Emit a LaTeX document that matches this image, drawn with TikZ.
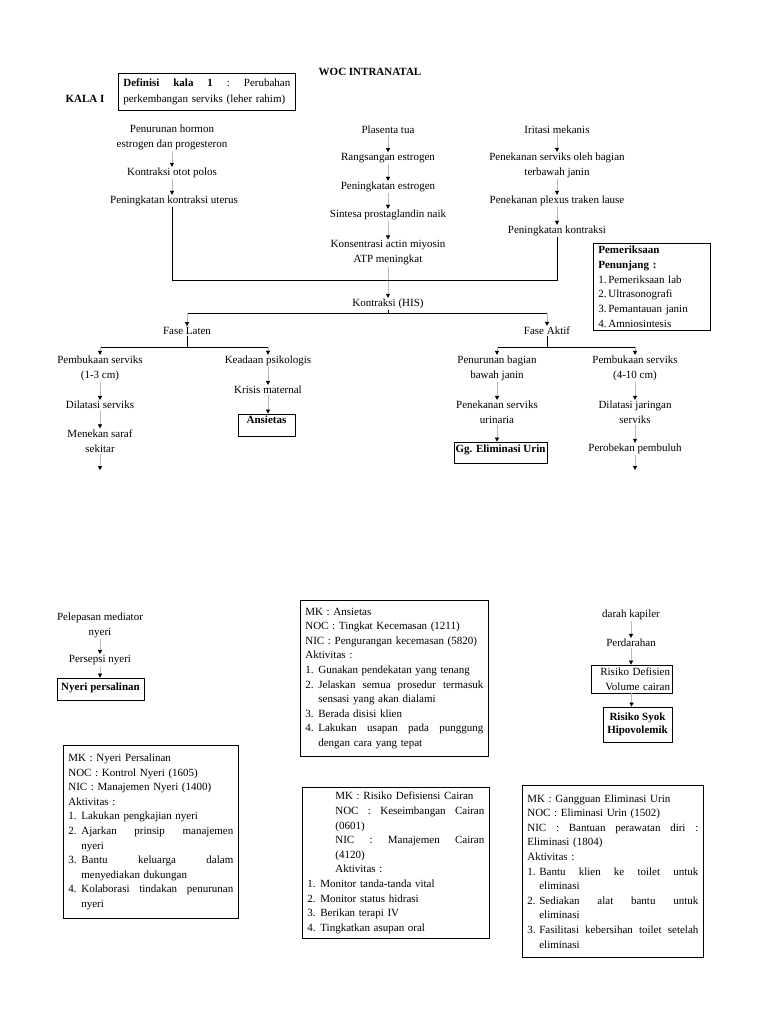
\documentclass[tikz,border=0pt]{standalone}
\usepackage{fontspec}
\setmainfont{Liberation Serif}
\usetikzlibrary{arrows.meta}
\newlength{\itw}\setlength{\itw}{13pt}
\newcommand{\sps}{\spaceskip=.25em plus 1fil\relax\xspaceskip=.25em plus 1fil\relax}
\newcommand{\itm}[2]{\makebox[\itw][l]{#1}#2}
\newcommand{\itj}[2]{\makebox[\itw][l]{#1}\makebox[\dimexpr\hsize-\itw][s]{\sps#2}}
\newcommand{\itc}[1]{\hspace*{\itw}#1}
\newcommand{\jus}[1]{\makebox[\hsize][s]{\sps#1}}
\newcommand{\hdr}[1]{\hspace*{28pt}#1}
\newcommand{\hdj}[1]{\hspace*{28pt}\makebox[\dimexpr\hsize-28pt][s]{\sps#1}}
\newcommand{\flw}[2]{\draw[flow] (#1.south) -- (#1.south |- #2.north);}

\begin{document}
\begin{tikzpicture}[x=1pt,y=-1pt,
  txt/.style={inner sep=1pt,align=center},
  box/.style={draw,line width=0.7pt,inner sep=0.5pt,align=center},
  note/.style={draw,line width=0.7pt,anchor=north west,inner xsep=5pt,inner ysep=2pt,align=left,font=\fontsize{11}{14.6}\selectfont},
  flow/.style={draw=gray!55,line width=0.4pt,-{Triangle[length=4pt,width=4pt,color=black]}},
  joint/.style={line width=0.6pt},
  font=\fontsize{11}{15}\selectfont]
  \useasboundingbox (0,0) rectangle (768,1024);

  % head
  \node[txt,font=\fontsize{11}{15}\selectfont\bfseries] (title) at (370,72) {WOC INTRANATAL};
  \node[txt,font=\fontsize{11}{15}\selectfont\bfseries] (kala) at (85,99) {KALA I};
  \node[note,text width=167pt,minimum height=37pt,font=\fontsize{11}{16}\selectfont] (def) at (118,73)
    {\jus{\textbf{Definisi kala 1} : Perubahan}\\perkembangan serviks (leher rahim)};

  % three causes
  \node[txt] (phe) at (172,137.5) {Penurunan hormon\\estrogen dan progesteron};
  \node[txt] (kop) at (172,173) {Kontraksi otot polos};
  \node[txt] (pku) at (174,201) {Peningkatan kontraksi uterus};
  \node[txt] (pt)  at (388,130) {Plasenta tua};
  \node[txt] (rse) at (388,158) {Rangsangan estrogen};
  \node[txt] (pe)  at (388,187) {Peningkatan estrogen};
  \node[txt] (spn) at (388,215) {Sintesa prostaglandin naik};
  \node[txt] (kam) at (388,253) {Konsentrasi actin miyosin\\ATP meningkat};
  \node[txt] (his) at (388,304) {Kontraksi (HIS)};
  \node[txt] (im)  at (557,130) {Iritasi mekanis};
  \node[txt] (psb) at (557,165.5) {Penekanan serviks oleh bagian\\terbawah janin};
  \node[txt] (ppt) at (557,201) {Penekanan plexus traken lause};
  \node[txt] (pk)  at (557,231) {Peningkatan kontraksi};
  \flw{phe}{kop} \flw{kop}{pku}
  \flw{pt}{rse} \flw{rse}{pe} \flw{pe}{spn} \flw{spn}{kam} \flw{kam}{his}
  \flw{im}{psb} \flw{psb}{ppt} \flw{ppt}{pk}
  \coordinate (jl) at (172,280); \coordinate (jr) at (557,280);
  \draw[joint] (pku.south -| jl) -- (jl) -- (jr) -- (pk.south);

  \node[note,text width=107pt,minimum height=87pt,inner ysep=1pt,font=\fontsize{11}{14.8}\selectfont] (pp1) at (593,243)
    {\setlength{\itw}{10pt}\textbf{Pemeriksaan}\\\textbf{Penunjang :}\\\itm{1.}{Pemeriksaan lab}\\
     \itm{2.}{Ultrasonografi}\\\itm{3.}{Pemantauan janin}\\\itm{4.}{Amniosintesis}};

  % split of HIS
  \node[txt] (laten) at (187,331) {Fase Laten};
  \node[txt] (aktif) at (547,331) {Fase Aktif};
  \coordinate (hs) at (388,313); \coordinate (hl) at (187,313); \coordinate (hr) at (547,313);
  \draw[joint] (his.south) -- (hs) (hl) -- (hr);
  \draw[flow] (hl) -- (laten.north);
  \draw[flow] (hr) -- (aktif.north);

  % fase laten
  \coordinate (lm) at (187,347); \coordinate (ll) at (100,347); \coordinate (lr) at (268,347);
  \node[txt] (ps1) at (100,368.5) {Pembukaan serviks\\(1-3 cm)};
  \node[txt] (ds)  at (100,405) {Dilatasi serviks};
  \node[txt] (ms)  at (100,441) {Menekan saraf\\sekitar};
  \coordinate (e1) at (100,470);
  \node[txt] (kp)  at (268,361) {Keadaan psikologis};
  \node[txt] (km)  at (268,390) {Krisis maternal};
  \node[box,minimum width=57pt,text height=8.5pt,text depth=12.5pt,font=\fontsize{11}{15}\selectfont\bfseries] (ans) at (266.5,425) {Ansietas};
  \draw[joint] (laten.south) -- (lm) (ll) -- (lr);
  \draw[flow] (ll) -- (ps1.north);
  \draw[flow] (lr) -- (kp.north);
  \flw{ps1}{ds} \flw{ds}{ms} \draw[flow] (ms.south) -- (e1);
  \flw{kp}{km} \flw{km}{ans}

  % fase aktif
  \coordinate (am) at (547,347); \coordinate (al) at (497,347); \coordinate (ar) at (635,347);
  \node[txt] (prb) at (497,368.5) {Penurunan bagian\\bawah janin};
  \node[txt] (psu) at (497,412.5) {Penekanan serviks\\urinaria};
  \node[box,minimum width=93pt,text height=10pt,text depth=10pt,font=\fontsize{11}{15}\selectfont\bfseries] (gg) at (500.5,452.5) {Gg. Eliminasi Urin};
  \node[txt] (ps2) at (635,368.5) {Pembukaan serviks\\(4-10 cm)};
  \node[txt] (dj)  at (635,412.5) {Dilatasi jaringan\\serviks};
  \node[txt] (pp)  at (635,449) {Perobekan pembuluh};
  \coordinate (e2) at (635,470);
  \draw[joint] (aktif.south) -- (am) (al) -- (ar);
  \draw[flow] (al) -- (prb.north);
  \draw[flow] (ar) -- (ps2.north);
  \flw{prb}{psu} \flw{psu}{gg}
  \flw{ps2}{dj} \flw{dj}{pp} \draw[flow] (pp.south) -- (e2);

  % next page
  \node[txt] (pmn) at (100,625) {Pelepasan mediator\\nyeri};
  \node[txt] (pn)  at (100,660) {Persepsi nyeri};
  \node[box,minimum width=87pt,text height=12pt,text depth=9pt,font=\fontsize{11}{15}\selectfont\bfseries] (nyp) at (100.5,689) {Nyeri persalinan};
  \flw{pmn}{pn} \flw{pn}{nyp}
  \node[txt] (dk) at (631,615) {darah kapiler};
  \node[txt] (pd) at (631,643) {Perdarahan};
  \node[box,inner xsep=2pt,text width=77pt,minimum height=28pt,align=right] (rdv) at (631.5,679) {Risiko Defisien\\Volume cairan};
  \node[box,minimum width=69pt,minimum height=35pt,font=\fontsize{11}{13}\selectfont\bfseries] (rsh) at (637.5,724.5) {Risiko Syok\\Hipovolemik};
  \flw{dk}{pd} \flw{pd}{rdv} \flw{rdv}{rsh}

  % askep boxes
  \node[note,text width=178pt,minimum height=156pt] (mka) at (300,600)
    {MK : Ansietas\\NOC : Tingkat Kecemasan (1211)\\NIC : Pengurangan kecemasan (5820)\\Aktivitas :\\
     \itm{1.}{Gunakan pendekatan yang tenang}\\\itj{2.}{Jelaskan semua prosedur termasuk}\\
     \itc{sensasi yang akan dialami}\\\itm{3.}{Berada disisi klien}\\
     \itj{4.}{Lakukan usapan pada punggung}\\\itc{dengan cara yang tepat}};
  \node[note,text width=165pt,minimum height=173pt] (mkn) at (63,745)
    {MK : Nyeri Persalinan\\NOC : Kontrol Nyeri (1605)\\NIC : Manajemen Nyeri (1400)\\Aktivitas :\\
     \itm{1.}{Lakukan pengkajian nyeri}\\\itj{2.}{Ajarkan prinsip manajemen}\\\itc{nyeri}\\
     \itj{3.}{Bantu keluarga dalam}\\\itc{menyediakan dukungan}\\
     \itj{4.}{Kolaborasi tindakan penurunan}\\\itc{nyeri}\\[10pt]};
  \node[note,text width=177pt,minimum height=151pt] (mkr) at (302,787)
    {\hdr{MK : Risiko Defisiensi Cairan}\\\hdj{NOC : Keseimbangan Cairan}\\\hdr{(0601)}\\
     \hdj{NIC : Manajemen Cairan}\\\hdr{(4120)}\\\hdr{Aktivitas :}\\
     \itm{1.}{Monitor tanda-tanda vital}\\\itm{2.}{Monitor status hidrasi}\\
     \itm{3.}{Berikan terapi IV}\\\itm{4.}{Tingkatkan asupan oral}};
  \node[note,text width=171pt,minimum height=172pt] (mkg) at (522,785)
    {\setlength{\itw}{12pt}MK : Gangguan Eliminasi Urin\\NOC : Eliminasi Urin (1502)\\
     \jus{NIC : Bantuan perawatan diri :}\\Eliminasi (1804)\\Aktivitas :\\
     \itj{1.}{Bantu klien ke toilet untuk}\\\itc{eliminasi}\\\itj{2.}{Sediakan alat bantu untuk}\\
     \itc{eliminasi}\\\itj{3.}{Fasilitasi kebersihan toilet setelah}\\\itc{eliminasi}};
\end{tikzpicture}
\end{document}
